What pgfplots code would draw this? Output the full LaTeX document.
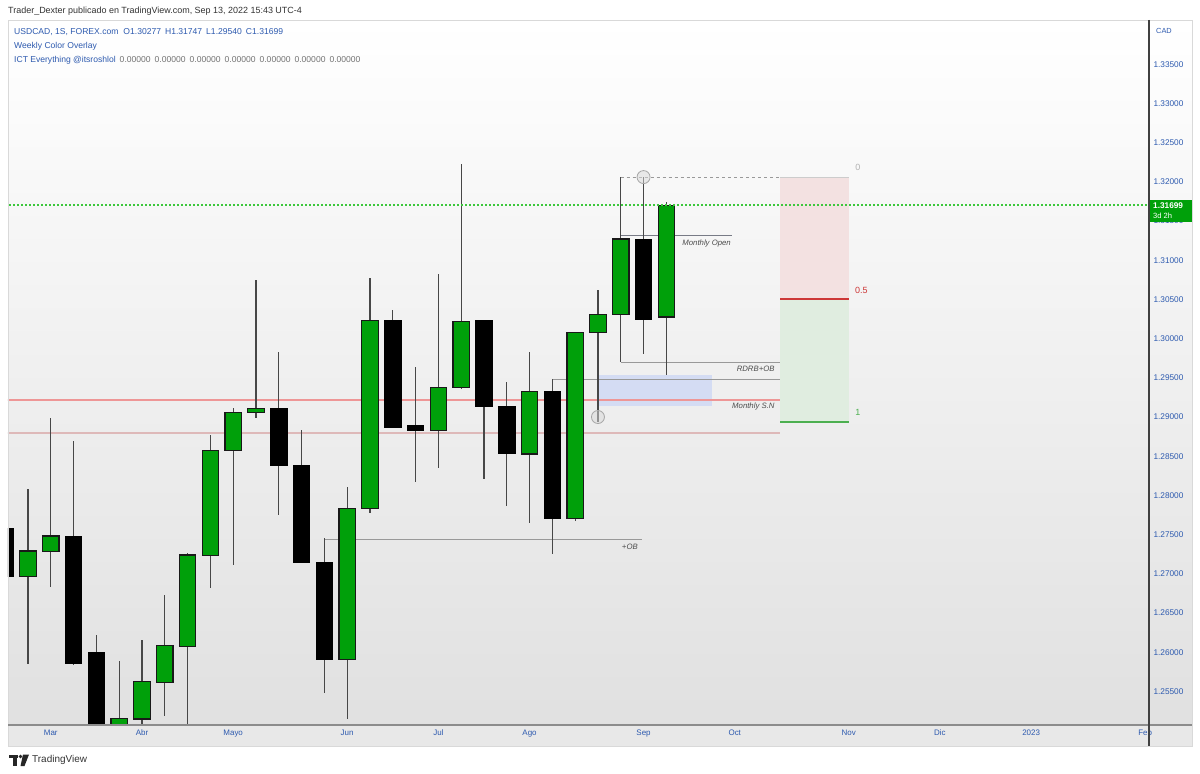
\documentclass[border=0pt]{standalone}
\usepackage{fontspec}
\setmainfont{Liberation Sans}
\usepackage{pgfplots}
\pgfplotsset{compat=1.18}
\usepackage{pgfplotstable}

\definecolor{tvgreen}{RGB}{0,160,10}
\definecolor{tvblue}{RGB}{45,90,175}
\definecolor{tvgray}{RGB}{120,123,134}
\definecolor{fibred}{RGB}{243,225,225}
\definecolor{fibgreen}{RGB}{224,237,224}
\definecolor{fibredline}{RGB}{205,55,55}
\definecolor{fibgreenline}{RGB}{76,175,80}
\definecolor{snred}{RGB}{238,150,150}
\definecolor{snpale}{RGB}{222,185,185}
\definecolor{lastgreen}{RGB}{60,200,60}
\definecolor{obbox}{RGB}{212,220,243}

% weekly candles, x = week index (0 = 4 Apr 2022)
\pgfplotstableread{
x   o        h        l        c
-5  1.2697   1.2808   1.2585   1.2729
-4  1.2729   1.2899   1.2683   1.2748
-1  1.2500   1.2589   1.2490   1.2515
0   1.2515   1.2616   1.2495   1.2562
1   1.2562   1.2673   1.2519   1.2608
2   1.2608   1.2727   1.2495   1.2724
3   1.2724   1.2877   1.2682   1.2857
4   1.2857   1.2911   1.2711   1.2906
5   1.2906   1.3075   1.2899   1.2911
9   1.2591   1.2811   1.2515   1.2783
10  1.2783   1.3077   1.2778   1.3023
13  1.2883   1.3082   1.2835   1.2938
14  1.2938   1.3223   1.2936   1.3022
17  1.2853   1.2983   1.2765   1.2933
19  1.2771   1.3008   1.2767   1.3008
20  1.3008   1.3062   1.2894   1.3031
21  1.3031   1.3206   1.2970   1.3127
23  1.30277  1.31747  1.29540  1.31699
}\upcandles

\pgfplotstableread{
x   o        h        l        c
-6  1.2758   1.2770   1.2680   1.2697
-3  1.2748   1.2869   1.2584   1.2586
-2  1.2600   1.2622   1.2490   1.2495
6   1.2911   1.2983   1.2775   1.2838
7   1.2838   1.2883   1.2714   1.2715
8   1.2715   1.2746   1.2548   1.2591
11  1.3023   1.3036   1.2886   1.2887
12  1.2889   1.2964   1.2817   1.2883
15  1.3023   1.3024   1.2821   1.2914
16  1.2914   1.2945   1.2786   1.2853
18  1.2933   1.2948   1.2725   1.2771
22  1.3127   1.3206   1.2981   1.3025
}\downcandles

\begin{document}
\begin{tikzpicture}[x=1bp,y=1bp]
\useasboundingbox (0,0) rectangle (1200,-774);
\fill[white] (0,0) rectangle (1200,-774);
\shade[top color=white, bottom color=black!12] (8,-20) rectangle (1192,-725);
\fill[black!9] (8,-725) rectangle (1192,-746);

\begin{axis}[
    at={(8bp,-725bp)}, anchor=south west,
    scale only axis, width=1141bp, height=705bp,
    xmin=-5.877, xmax=44.17,
    ymin=1.250714, ymax=1.340638,
    axis line style={draw=none},
    major tick length=0pt,
    scaled y ticks=false,
    ytick={1.255,1.26,1.265,1.27,1.275,1.28,1.285,1.29,1.295,1.30,1.305,1.31,1.315,1.32,1.325,1.33,1.335},
    yticklabel pos=right,
    yticklabel style={/pgf/number format/.cd, fixed, fixed zerofill, precision=5,
        assume math mode=true, /tikz/.cd,
        font=\fontsize{8.3}{9}\selectfont, text=tvblue, xshift=1bp},
    xtick={-4,0,4,9,13,17,22,26,31,35,39,44},
    xticklabels={Mar,Abr,Mayo,Jun,Jul,Ago,Sep,Oct,Nov,Dic,2023,Feb},
    xticklabel style={font=\fontsize{8}{9}\selectfont, text=tvblue, yshift=-1bp},
]
% zones behind the candles
\addplot[draw=none, fill=obbox] coordinates {(20,1.2914) (25,1.2914) (25,1.2954) (20,1.2954)} -- cycle;
\addplot[draw=none, fill=fibred] coordinates {(28,1.3050) (31,1.3050) (31,1.3206) (28,1.3206)} -- cycle;
\addplot[draw=none, fill=fibgreen] coordinates {(28,1.2894) (31,1.2894) (31,1.3050) (28,1.3050)} -- cycle;
\addplot[snred, line width=2bp] coordinates {(-6,1.2922) (28,1.2922)};
\addplot[snpale, line width=2bp] coordinates {(-6,1.2879) (28,1.2879)};
\addplot[black!40, line width=1bp] coordinates {(21,1.2970) (28,1.2970)};
\addplot[black!40, line width=1bp] coordinates {(18,1.2948) (28,1.2948)};
\addplot[black!40, line width=1bp] coordinates {(8.03,1.2744) (21.93,1.2744)};
\addplot[tvgray, line width=1.2bp] coordinates {(21,1.3131) (25.9,1.3131)};
\addplot[black!40, dashed, line width=1bp] coordinates {(21,1.3206) (28,1.3206)};
\addplot[black!20, line width=1bp] coordinates {(28,1.3206) (31,1.3206)};
\addplot[fibredline, line width=2bp] coordinates {(28,1.3050) (31,1.3050)};
\addplot[fibgreenline, line width=2bp] coordinates {(28,1.2894) (31,1.2894)};

% wicks
\addplot[draw=none, error bars/.cd, y dir=both, y explicit, error mark=none,
    error bar style={line width=1.3bp, draw=black!72}]
    table[x=x, y expr={(\thisrow{h}+\thisrow{l})/2}, y error expr={(\thisrow{h}-\thisrow{l})/2}] {\upcandles};
\addplot[draw=none, error bars/.cd, y dir=both, y explicit, error mark=none,
    error bar style={line width=1.3bp, draw=black!72}]
    table[x=x, y expr={(\thisrow{h}+\thisrow{l})/2}, y error expr={(\thisrow{h}-\thisrow{l})/2}] {\downcandles};

% bodies
\addplot[draw=none, error bars/.cd, y dir=both, y explicit, error mark=none,
    error bar style={line width=17.5bp, draw=black!90}]
    table[x=x, y expr={(\thisrow{o}+\thisrow{c})/2}, y error expr={(\thisrow{c}-\thisrow{o})/2+0.00009}] {\upcandles};
\addplot[draw=none, error bars/.cd, y dir=both, y explicit, error mark=none,
    error bar style={line width=15.3bp, draw=tvgreen}]
    table[x=x, y expr={(\thisrow{o}+\thisrow{c})/2}, y error expr={(\thisrow{c}-\thisrow{o})/2-0.00006}] {\upcandles};
\addplot[draw=none, error bars/.cd, y dir=both, y explicit, error mark=none,
    error bar style={line width=17.5bp, draw=black}]
    table[x=x, y expr={(\thisrow{o}+\thisrow{c})/2}, y error expr={(\thisrow{o}-\thisrow{c})/2+0.00006}] {\downcandles};

% last price and swing markers
\addplot[lastgreen, line width=2bp, dash pattern=on 2bp off 2bp] coordinates {(-6,1.31699) (45,1.31699)};
\addplot[only marks, mark=*, mark size=6.5bp,
    mark options={fill=black!15, fill opacity=0.5, draw=black!35, line width=0.8bp}]
    coordinates {(22,1.3206) (20,1.2900)};

\begin{scope}[font=\fontsize{7.8}{9}\selectfont\itshape, text=black!70]
\node[anchor=west] at (axis cs:23.55,1.3121) {Monthly Open};
\node[anchor=east] at (axis cs:27.9,1.2961) {RDRB+OB};
\node[anchor=east] at (axis cs:27.9,1.2913) {Monthly S.N};
\node[anchor=east] at (axis cs:21.9,1.2734) {+OB};
\end{scope}
\node[font=\fontsize{9}{10}\selectfont, text=black!30] at (axis cs:31.4,1.3218) {0};
\node[font=\fontsize{9}{10}\selectfont, text=fibredline] at (axis cs:31.55,1.3062) {0.5};
\node[font=\fontsize{9}{10}\selectfont, text=fibgreenline] at (axis cs:31.4,1.2906) {1};
\end{axis}

% frame
\draw[black!15] (8,-20) rectangle (1192,-746);
\draw[black!45, line width=1.5bp] (8,-725) -- (1192,-725);
\draw[black!75, line width=1.1bp] (1149,-20) -- (1149,-746);

% last price label
\fill[tvgreen] (1150,-199.5) rectangle (1192,-222);
\node[anchor=west, text=white, font=\fontsize{8.3}{9}\selectfont\bfseries, inner sep=0] at (1153,-206) {1.31699};
\node[anchor=west, text=white, font=\fontsize{7.6}{9}\selectfont, inner sep=0] at (1153,-216) {3d 2h};
\node[anchor=west, text=tvblue, font=\fontsize{7.4}{9}\selectfont, inner sep=0] at (1156,-31) {CAD};

% header and legend
\node[anchor=west, inner sep=0, text=black!80, font=\fontsize{9}{10}\selectfont] at (8,-11.5)
    {Trader\_Dexter publicado en TradingView.com, Sep 13, 2022 15:43 UTC-4};
\node[anchor=west, inner sep=0, text=tvblue, font=\fontsize{8.6}{10}\selectfont] at (14,-32)
    {USDCAD, 1S, FOREX.com\hspace{5bp}O1.30277\hspace{4bp}H1.31747\hspace{4bp}L1.29540\hspace{4bp}C1.31699};
\node[anchor=west, inner sep=0, text=tvblue, font=\fontsize{8.6}{10}\selectfont] at (14,-46)
    {Weekly Color Overlay};
\node[anchor=west, inner sep=0, text=tvblue, font=\fontsize{8.6}{10}\selectfont] at (14,-60)
    {ICT Everything @itsroshlol\hspace{4bp}\textcolor{black!55}{0.00000\hspace{4bp}0.00000\hspace{4bp}0.00000\hspace{4bp}0.00000\hspace{4bp}0.00000\hspace{4bp}0.00000\hspace{4bp}0.00000}};

% footer logo
\fill[black!85] (9,-754.5) rectangle (18,-757.5);
\fill[black!85] (13,-757.5) rectangle (16.5,-766);
\fill[black!85] (20.5,-756.5) circle (1.8);
\fill[black!85] (23,-754.5) -- (29,-754.5) -- (24.5,-766) -- (20.5,-766) -- cycle;
\node[anchor=west, inner sep=0, text=black!80, font=\fontsize{10}{11}\selectfont] at (32,-760) {TradingView};
\end{tikzpicture}
\end{document}
